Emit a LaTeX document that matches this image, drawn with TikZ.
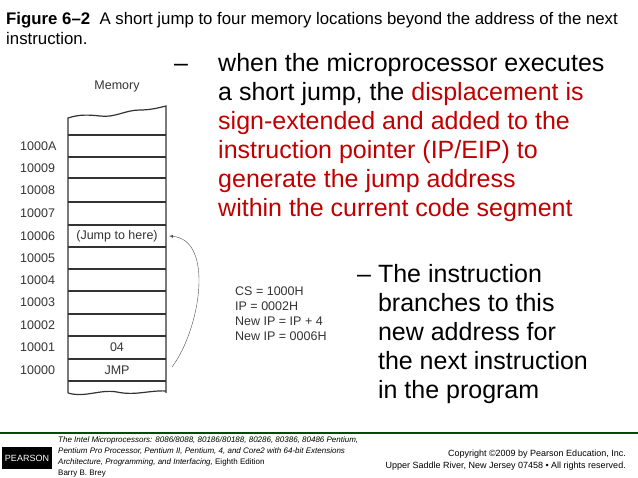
\documentclass[tikz,border=0pt]{standalone}
\usepackage{fontspec}
\setmainfont{Liberation Sans}
\begin{document}
\begin{tikzpicture}[x=1pt,y=-1pt,
 addr/.style={anchor=west,font=\fontsize{12.5}{15}\selectfont,text=black!80,inner sep=0},
 big/.style={anchor=west,font=\fontsize{25}{29}\selectfont,align=left,inner sep=0},
 small/.style={font=\fontsize{12.5}{15}\selectfont,align=left,inner sep=0,text=black!80}]
\useasboundingbox (0,0) rectangle (638,478);
\node[anchor=west,inner sep=0,font=\fontsize{16.8}{20}\selectfont,align=left] (title) at (6,28)
 {\textbf{Figure 6–2}\ \ A short jump to four memory locations beyond the address of the next\\instruction.};
% memory
\node[small] (mem) at (117,87) {Memory};
\draw[line width=1.2pt,black!80] (68,393) -- (68,118) .. controls (80,114) and (90,115) .. (100,116) .. controls (115,118) and (125,110) .. (140,110) .. controls (150,110) and (158,108) .. (166,106) -- (166,393);
\draw[line width=1.2pt,black!80] (68,393) .. controls (85,398) and (100,389) .. (117,392) .. controls (135,396) and (150,390) .. (166,391);
\foreach \y in {135,157,178,202,225,247,269,291,314,336,359,381} \draw[line width=1.2pt,black!80] (68,\y)--(166,\y);
\foreach \l/\y in {1000A/146,10009/168,10008/190,10007/213,10006/236,10005/258,10004/280,10003/302,10002/325,10001/347,10000/370}
 \node[addr] at (20,\y) {\l};
\node[small] (jump) at (117,236) {(Jump to here)};
\node[small] (o4) at (117,347) {04};
\node[small] (jmp) at (117,370) {JMP};
\coordinate (s) at (172,367);
\coordinate (e) at (169,236);
\draw[-latex,black!70] (s) .. controls (200,330) and (215,240) .. (e);
\node[small,anchor=north west] (cs) at (235,287) {CS = 1000H\\IP = 0002H\\New IP = IP + 4\\New IP = 0006H};
% right text
\node[big,anchor=north west] (t1) at (218,51) {\strut when the microprocessor executes\\
a short jump, the \textcolor[HTML]{C00000}{displacement is}\\
\textcolor[HTML]{C00000}{sign-extended and added to the}\\
\textcolor[HTML]{C00000}{instruction pointer (IP/EIP) to}\\
\textcolor[HTML]{C00000}{generate the jump address}\\
\textcolor[HTML]{C00000}{within the current code segment}};
\node[big,anchor=north west] (d1) at (174,51) {\strut –};
\node[big,anchor=north west] (t2) at (357,264) {– The instruction\\
\phantom{– }branches to this\\
\phantom{– }new address for\\
\phantom{– }the next instruction\\
\phantom{– }in the program};
% footer
\draw[line width=1.5pt,green!30!black] (0,433)--(638,433);
\node[fill=black,text=white,minimum width=44,minimum height=22,font=\fontsize{9}{10}\selectfont] (logo) at (27,458) {PEARSON};
\node[anchor=north west,inner sep=0,font=\fontsize{8}{11}\selectfont,align=left] (ft) at (58,437)
 {\textit{The Intel Microprocessors: 8086/8088, 80186/80188, 80286, 80386, 80486 Pentium,}\\
 \textit{Pentium Pro Processor, Pentium II, Pentium, 4, and Core2 with 64-bit Extensions}\\
 \textit{Architecture, Programming, and Interfacing,} Eighth Edition\\Barry B. Brey};
\node[anchor=north east,inner sep=0,font=\fontsize{9}{12}\selectfont,align=right] (cp) at (626,450)
 {Copyright ©2009 by Pearson Education, Inc.\\Upper Saddle River, New Jersey 07458 • All rights reserved.};
\end{tikzpicture}
\end{document}
